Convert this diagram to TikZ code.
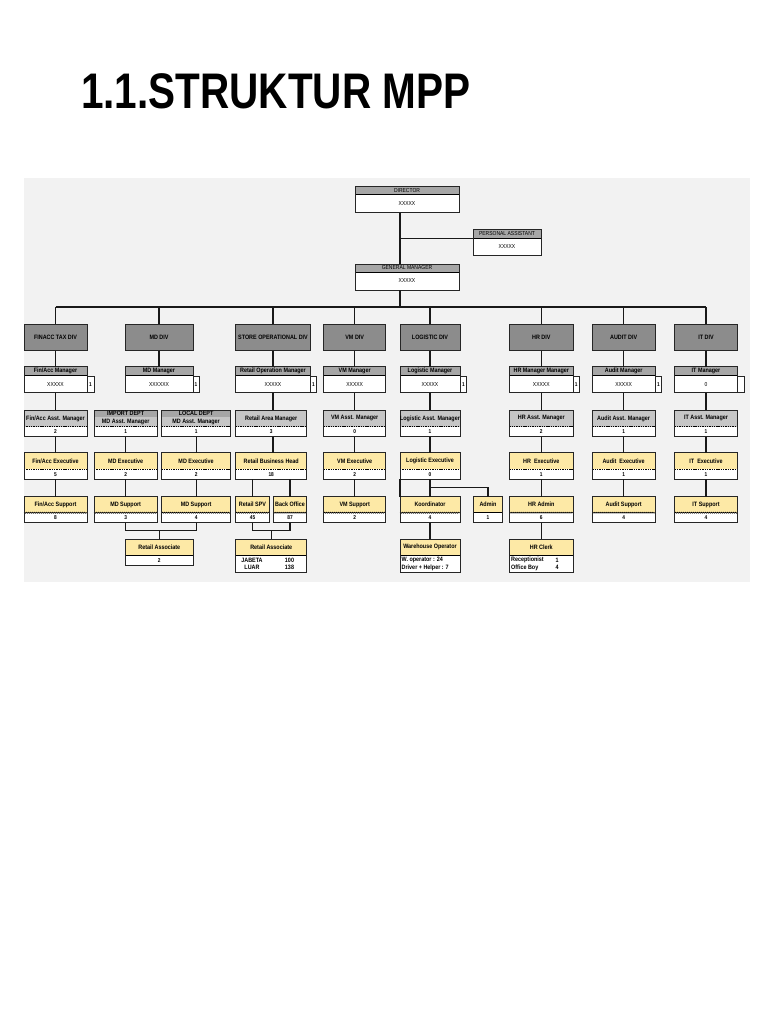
\documentclass[tikz,border=0pt]{standalone}
\usepackage{fontspec}
\newfontfamily\bxf{Liberation Sans}[FakeStretch=0.86]
\newfontfamily\ttlf{Liberation Sans}[FakeStretch=0.81]
\usetikzlibrary{decorations.pathmorphing}
\definecolor{panel}{HTML}{F2F2F2}
\definecolor{divc}{HTML}{8C8C8C}
\definecolor{mgrh}{HTML}{A6A6A6}
\definecolor{asth}{HTML}{C6C6C6}
\definecolor{yel}{HTML}{FDE9A6}
\tikzset{
 obox/.style={draw=black!85, line width=0.9pt, inner sep=0pt, outer sep=0pt, anchor=north west},
 conn/.style={line width=1.1pt, draw=black!90},
 lbl/.style={font=\bxf\bfseries\fontsize{6.3}{7}\selectfont, inner sep=0pt},
 sml/.style={font=\bxf\fontsize{5.8}{6}\selectfont, inner sep=0pt},
 num/.style={font=\bxf\bfseries\fontsize{5.6}{6}\selectfont, inner sep=0pt},
 dsep/.style={dash pattern=on 1.4pt off 0.9pt, line width=0.7pt},
 wsep/.style={decorate, decoration={snake, amplitude=0.55pt, segment length=2pt}, line width=0.6pt},
 ssep/.style={line width=0.7pt},
 nosep/.style={draw=none}
}
% name x1 y1 x2 y2 ysplit topfill bottomfill sepstyle
\newcommand\hb[9]{%
 \fill[#8] (#2,#3) rectangle (#4,#5);
 \fill[#7] (#2,#3) rectangle (#4,#6);
 \draw[#9] (#2,#6) -- (#4,#6);
 \node[obox, minimum width={(#4-#2)*1pt}, minimum height={(#5-#3)*1pt}] (#1) at (#2,#3) {};}
\begin{document}
\begin{tikzpicture}[x=1pt,y=-1pt]
\useasboundingbox (0,0) rectangle (768,1024);
\fill[white] (0,0) rectangle (768,1024);
\fill[panel] (24,178) rectangle (750,582);
\node[anchor=base west, font=\ttlf\bfseries\fontsize{50}{56}\selectfont, inner sep=0pt] (title) at (81,109) {1.1.STRUKTUR MPP};

% top
\hb{dir}{355}{186.7}{459}{212.7}{194}{mgrh}{white}{ssep}
\node[sml] (dir-h) at (dir.north |- 0,190.5) {DIRECTOR};
\node[sml] (dir-b) at (dir.north |- 0,203.5) {XXXXX};
\hb{pa}{473}{229}{541}{255}{238}{mgrh}{white}{ssep}
\node[sml] (pa-h) at (pa.north |- 0,233.6) {PERSONAL ASSISTANT};
\node[sml] (pa-b) at (pa.north |- 0,246.3) {XXXXX};
\hb{gm}{355}{264}{459}{290}{272}{mgrh}{white}{ssep}
\node[sml] (gm-h) at (gm.north |- 0,268) {GENERAL MANAGER};
\node[sml] (gm-b) at (gm.north |- 0,281) {XXXXX};

% divisions
\foreach \n/\a/\b/\t in {fin/24/87/FINACC TAX DIV, mdd/125/193/MD DIV, std/235.7/310.3/STORE OPERATIONAL DIV, vm/323.7/385.7/VM DIV, log/400/460/LOGISTIC DIV, hr/509.3/573.3/HR DIV, aud/592.3/655/AUDIT DIV, it/674.7/737.3/IT DIV}{
 \hb{\n}{\a}{324}{\b}{350.5}{350.5}{divc}{divc}{nosep}
 \node[lbl] (\n-t) at (\n) {\t};
}
% managers
\foreach \n/\a/\b/\t/\v in {finm/24/87/{Fin/Acc Manager}/XXXXX, mdm/125/193/MD Manager/XXXXXX, stm/235.7/310.3/Retail Operation Manager/XXXXX, vmm/323.7/385.7/VM Manager/XXXXX, logm/400/460/Logistic Manager/XXXXX, hrm/509.3/573.3/HR Manager Manager/XXXXX, audm/592.3/655/Audit Manager/XXXXX, itm/674.7/737.3/IT Manager/0}{
 \hb{\n}{\a}{366.7}{\b}{392.7}{375.5}{mgrh}{white}{ssep}
 \node[lbl] (\n-h) at (\n.north |- 0,371) {\t};
 \node[sml] (\n-b) at (\n.north |- 0,384.3) {\v};
}
% side boxes
\foreach \n/\a/\b/\v in {fins/87/94/1, mds/193/199/1, sts/310.3/316.7/1, logs/460/466.7/1, hrs/573.3/579.3/1, auds/655/661.7/1, its/737.3/744/}{
 \hb{\n}{\a}{376}{\b}{392.7}{392.7}{white}{white}{nosep}
 \node[num] (\n-t) at (\n) {\v};
}
% assistant managers
\foreach \n/\a/\b/\t/\v in {fina/24/87/{Fin/Acc Asst. Manager}/2, sta/235.7/306.7/Retail Area Manager/3, vma/323.7/385.7/VM Asst. Manager/0, loga/400/460/Logistic Asst. Manager/1, hra/509.3/573.3/HR Asst. Manager/2, auda/592.3/655/Audit Asst. Manager/1, ita/674.7/737.3/IT Asst. Manager/1}{
 \hb{\n}{\a}{410}{\b}{436.7}{426.7}{asth}{white}{dsep}
 \node[lbl] (\n-h) at (\n.north |- 0,418.4) {\t};
 \node[num] (\n-b) at (\n.north |- 0,431.8) {\v};
}
\foreach \n/\a/\b/\d in {mdi/94/157.3/IMPORT DEPT, mdl/161.7/230.5/LOCAL DEPT}{
 \hb{\n}{\a}{410}{\b}{436.7}{426.7}{asth}{white}{dsep}
 \fill[mgrh] (\a,410) rectangle (\b,417);
 \draw[obox] (\n.north west) rectangle (\n.south east);
 \node[lbl] (\n-d) at (\n.north |- 0,413.4) {\d};
 \node[lbl] (\n-h) at (\n.north |- 0,421.9) {MD Asst. Manager};
 \node[num] (\n-b) at (\n.north |- 0,431.8) {1};
}
% executives
\foreach \n/\a/\b/\t/\v in {fine/24/87/{Fin/Acc Executive}/5, mdie/94/157.3/MD Executive/2, mdle/161.7/230.5/MD Executive/2, ste/235.7/306.7/Retail Business Head/18, vme/323.7/385.7/VM Executive/2, loge/400/460/Logistic Executive/0, hre/509.3/573.3/HR~ Executive/1, aude/592.3/655/Audit~ Executive/1, ite/674.7/737.3/IT~ Executive/1}{
 \hb{\n}{\a}{452.7}{\b}{479.3}{469.3}{yel}{white}{dsep}
 \node[lbl] (\n-h) at (\n.north |- 0,461) {\t};
 \node[num] (\n-b) at (\n.north |- 0,474.4) {\v};
}
% support
\foreach \n/\a/\b/\t/\v in {fisu/24/87/{Fin/Acc Support}/8, mdisu/94/157.3/MD Support/3, mdlsu/161.7/230.5/MD Support/4, spv/235.7/269.3/Retail SPV/45, bo/273.3/306.7/Back Office/87, vmsu/323.7/385.7/VM Support/2, koor/400/460/Koordinator/4, hrsu/509.3/573.3/HR Admin/6, audsu/592.3/655/Audit Support/4, itsu/674.7/737.3/IT Support/4}{
 \hb{\n}{\a}{496.7}{\b}{522.7}{512.7}{yel}{white}{wsep}
 \node[lbl] (\n-h) at (\n.north |- 0,504.6) {\t};
 \node[num] (\n-b) at (\n.north |- 0,517.8) {\v};
}
\hb{adm}{473.3}{496.7}{502.7}{522.7}{512.7}{yel}{white}{ssep}
\node[lbl] (adm-h) at (adm.north |- 0,504.6) {Admin};
\node[num] (adm-b) at (adm.north |- 0,517.8) {1};

% bottom row
\hb{mdra}{125.3}{539}{193.3}{565}{555.7}{yel}{white}{ssep}
\node[lbl] (mdra-h) at (mdra.north |- 0,547.3) {Retail Associate};
\node[num] (mdra-b) at (mdra.north |- 0,560.3) {2};
\hb{stra}{235.7}{539}{306.7}{572.7}{555.7}{yel}{white}{ssep}
\node[lbl] (stra-h) at (stra.north |- 0,547.3) {Retail Associate};
\node[lbl] (stra-a) at (252,560) {JABETA};
\node[lbl] (stra-b) at (289.5,560) {100};
\node[lbl] (stra-c) at (252,567.8) {LUAR};
\node[lbl] (stra-d) at (289.5,567.8) {138};
\hb{who}{400}{539}{460}{572.7}{555.7}{yel}{white}{ssep}
\node[lbl] (who-h) at (who.north |- 0,547.3) {Warehouse Operator};
\node[lbl, anchor=west] (who-a) at (401.5,560) {W. operator : 24};
\node[lbl, anchor=west] (who-b) at (401.5,567.8) {Driver + Helper : 7};
\hb{hrc}{509.3}{539}{573.3}{572.7}{555.7}{yel}{white}{ssep}
\node[lbl] (hrc-h) at (hrc.north |- 0,547.3) {HR Clerk};
\node[lbl, anchor=west] (hrc-a) at (511,560) {Receptionist};
\node[lbl] (hrc-b) at (557,560) {1};
\node[lbl, anchor=west] (hrc-c) at (511,567.8) {Office Boy};
\node[lbl] (hrc-d) at (557,567.8) {4};

% connectors
\draw[conn] ([xshift=-7pt]dir.south) -- ([xshift=-7pt]gm.north);
\coordinate (paj) at (400,238.3);
\draw[conn] (paj) -- (paj -| pa.west);
\coordinate (busy) at (0,307);
\draw[conn] (fin.north |- busy) -- (it.north |- busy);
\draw[conn] ([xshift=-7pt]gm.south) -- ([xshift=-7pt]gm.south |- busy);
\foreach \d in {fin,mdd,std,vm,log,hr,aud,it}{\draw[conn] (\d.north |- busy) -- (\d.north);}
\foreach \d/\m in {fin/finm, mdd/mdm, std/stm, vm/vmm, log/logm, hr/hrm, aud/audm, it/itm}{\draw[conn] (\d.south) -- (\m.north);}
\foreach \m/\a in {finm/fina, stm/sta, vmm/vma, logm/loga, hrm/hra, audm/auda, itm/ita}{\draw[conn] (\m.south) -- (\m.south |- \a.north);}
\foreach \a/\e in {fina/fine, mdi/mdie, mdl/mdle, vma/vme, loga/loge, hra/hre, auda/aude, ita/ite}{\draw[conn] (\a.south) -- (\e.north);}
\draw[conn] (stm.south |- sta.south) -- (stm.south |- ste.north);
\foreach \e/\s in {fine/fisu, mdie/mdisu, mdle/mdlsu, vme/vmsu, loge/koor, hre/hrsu, aude/audsu, ite/itsu}{\draw[conn] (\e.south) -- (\s.north);}
\draw[conn] (spv.north |- ste.south) -- (spv.north);
\draw[conn] (bo.north |- ste.south) -- (bo.north);
\coordinate (lj) at (0,487.5);
\draw[conn] (loge.south |- lj) -| (adm.north);
\draw[conn] (loge.south west) -- (koor.north west);
\coordinate (mj) at (0,530.5);
\draw[conn] (mdisu.south) |- (mdlsu.south |- mj) -- (mdlsu.south);
\draw[conn] (mdra.north |- mj) -- (mdra.north);
\draw[conn] (spv.south) |- (bo.south |- mj) -- (bo.south);
\draw[conn] (stra.north |- mj) -- (stra.north);
\draw[conn] (koor.south) -- (who.north);
\draw[conn] (hrsu.south) -- (hrc.north);
\end{tikzpicture}
\end{document}
